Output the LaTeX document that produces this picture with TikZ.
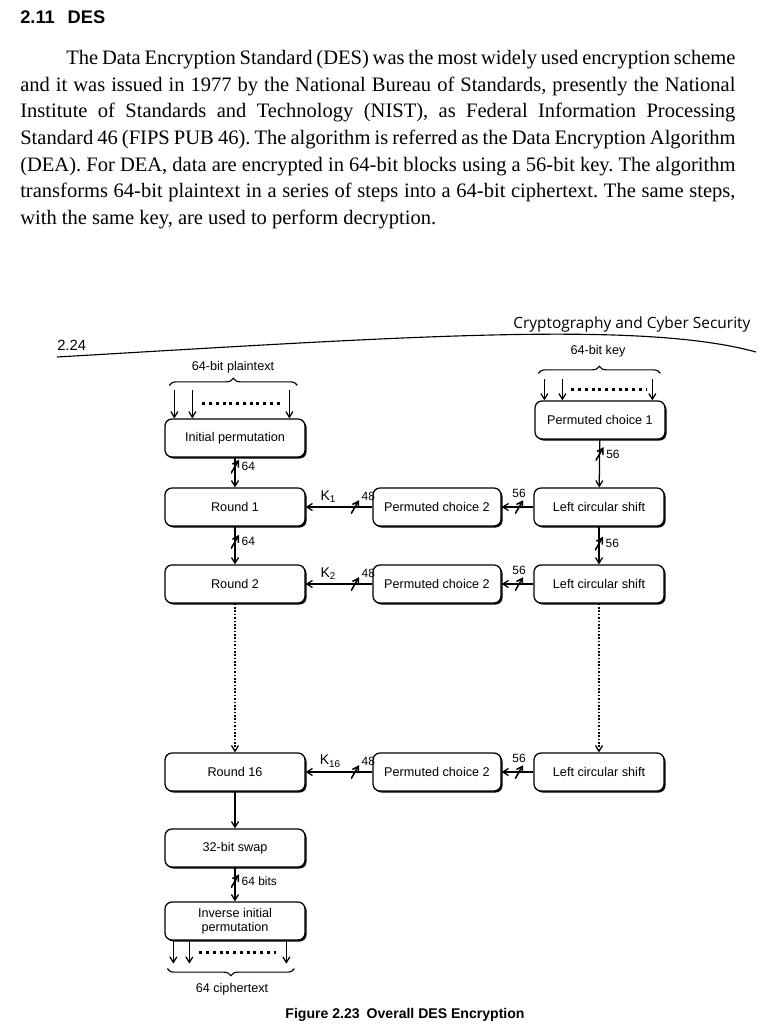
\documentclass[tikz,border=0pt]{standalone}
\usepackage{fontspec}
\setmainfont{Liberation Serif}
\setsansfont{Liberation Sans}
\newfontfamily\runfont{Open Sans}
\usetikzlibrary{arrows.meta,calc,shadows,decorations.pathreplacing}
\begin{document}
\frenchspacing
\begin{tikzpicture}[x=0.025cm, y=-0.025cm,
    every node/.style={font=\sffamily\fontsize{9}{10}\selectfont},
    stage/.style={draw, line width=0.9pt, rounded corners=5pt, fill=white, minimum height=0.95cm,
      align=center, inner sep=2pt,
      drop shadow={shadow xshift=1.1pt, shadow yshift=-1.1pt, fill=black, opacity=1}},
    leftbox/.style={stage, minimum width=3.5cm},
    midbox/.style={stage, minimum width=3.2cm},
    rightbox/.style={stage, minimum width=3.25cm},
    arr/.style={-{Straight Barb[length=4pt,width=5pt]}, line width=0.9pt},
    dotarr/.style={arr, dash pattern=on 1.2pt off 1.2pt},
    bus/.style={inner sep=0pt, minimum width=0.2cm, minimum height=0.34cm,
      path picture={\draw[line width=1.1pt] (path picture bounding box.south west) -- (path picture bounding box.north east);}},
    num/.style={font=\sffamily\fontsize{8.5}{9}\selectfont, inner sep=1pt},
    inbits/.style={line width=2pt, dash pattern=on 2.2pt off 2.6pt},
    brc/.style={decorate, decoration={brace, amplitude=5pt}, line width=0.8pt},
    body/.style={anchor=base west, inner sep=0pt, font=\rmfamily\fontsize{14.6}{18}\selectfont}]
    \useasboundingbox (0,0) rectangle (768,1024);
    \node[anchor=base west, inner sep=0pt, font=\sffamily\bfseries\fontsize{13}{15}\selectfont] (sec) at (20,24) {2.11\hspace{0.7em}DES};
    \node[body] (t1) at (66,65) {\makebox[16.725cm][s]{The Data Encryption Standard (DES) was the most widely used encryption scheme}};
    \node[body] (t2) at (20,92) {\makebox[17.875cm][s]{and it was issued in 1977 by the National Bureau of Standards, presently the National}};
    \node[body] (t3) at (20,118) {\makebox[17.875cm][s]{Institute of Standards and Technology (NIST), as Federal Information Processing}};
    \node[body] (t4) at (20,145) {\makebox[17.875cm][s]{Standard 46 (FIPS PUB 46). The algorithm is referred as the Data Encryption Algorithm}};
    \node[body] (t5) at (20,172) {\makebox[17.875cm][s]{(DEA). For DEA, data are encrypted in 64-bit blocks using a 56-bit key. The algorithm}};
    \node[body] (t6) at (20,198) {\makebox[17.875cm][s]{transforms 64-bit plaintext in a series of steps into a 64-bit ciphertext. The same steps,}};
    \node[body] (t7) at (20,225) {with the same key, are used to perform decryption.};
    \node[anchor=base west, inner sep=0pt, font=\runfont\fontsize{11}{13}\selectfont] (runhead) at (513,328) {Cryptography and Cyber Security};
    \node[anchor=base west, inner sep=0pt, font=\sffamily\fontsize{10.5}{12}\selectfont] (pageno) at (57,350) {2.24};
    \draw[line width=0.8pt] (57,357) .. controls (400,337) and (640,320) .. (756,352);

    \node[leftbox] (ip) at (235,438) {Initial permutation};
    \node[leftbox] (r1) at (235,507) {Round 1};
    \node[leftbox] (r2) at (235,584) {Round 2};
    \node[leftbox] (r16) at (235,772) {Round 16};
    \node[leftbox] (swap) at (235,848) {32-bit swap};
    \node[leftbox] (iip) at (235,921) {Inverse initial\\permutation};
    \node[midbox] (pc2a) at (437,507) {Permuted choice 2};
    \node[midbox] (pc2b) at (437,584) {Permuted choice 2};
    \node[midbox] (pc2p) at (437,772) {Permuted choice 2};
    \node[rightbox] (pc1) at (600,420) {Permuted choice 1};
    \node[rightbox] (ls1) at (599,507) {Left circular shift};
    \node[rightbox] (ls2) at (599,584) {Left circular shift};
    \node[rightbox] (ls16) at (599,772) {Left circular shift};

    \node (ptxt) at (233,367) {64-bit plaintext};
    \foreach \k/\dx in {a/10,b/28,c/125}{
      \coordinate (ptin\k) at ($(ip.north west)+(\dx,-28)$);
      \draw[arr] (ptin\k) -- (ptin\k |- ip.north);
    }
    \draw[inbits] ($(ptinb)+(10,13)$) -- ($(ptinc)+(-8,13)$);
    \draw[brc] ($(ptina)+(-5,-5)$) -- ($(ptinc)+(8,-5)$);

    \node (ktxt) at (598,351) {64-bit key};
    \foreach \k/\dx in {a/10,b/28,c/118}{
      \coordinate (kin\k) at ($(pc1.north west)+(\dx,-21)$);
      \draw[arr] (kin\k) -- (kin\k |- pc1.north);
    }
    \draw[inbits] ($(kinb)+(9,10)$) -- ($(kinc)+(-6,10)$);
    \draw[brc] ($(kina)+(-6,-6)$) -- ($(kinc)+(8,-6)$);

    \foreach \k/\dx in {a/9,b/25,c/122}{
      \coordinate (ctout\k) at ($(iip.south west)+(\dx,23)$);
      \draw[arr] (ctout\k |- iip.south) -- (ctout\k);
    }
    \draw[inbits] ($(ctoutb)+(10,-11)$) -- ($(ctoutc)+(-10,-11)$);
    \draw[brc] ($(ctoutc)+(8,5)$) -- ($(ctouta)+(-6,5)$);
    \node (ctxt) at (232,989) {64 ciphertext};

    \draw[arr] (ip) -- node[bus, pos=.3, label={[num]right:64}] (s1) {} (r1);
    \draw[arr] (r1) -- node[bus, pos=.4, label={[num]right:64}] (s2) {} (r2);
    \draw[dotarr] (r2) -- (r16);
    \draw[arr] (r16) -- (swap);
    \draw[arr] (swap) -- node[bus, pos=.4, label={[num]right:64 bits}] (s3) {} (iip);

    \draw[arr] (pc1) -- node[bus, pos=.3, label={[num]right:56}] (s4) {} (ls1);
    \draw[arr] (ls1) -- node[bus, pos=.45, label={[num]right:56}] (s5) {} (ls2);
    \draw[dotarr] (ls2) -- (ls16);

    \draw[arr] (ls1) -- node[bus, pos=.45, label={[num]above:56}] (s6) {} (pc2a);
    \draw[arr] (ls2) -- node[bus, pos=.45, label={[num]above:56}] (s7) {} (pc2b);
    \draw[arr] (ls16) -- node[bus, pos=.45, label={[num]above:56}] (s8) {} (pc2p);

    \draw[arr] (pc2a) -- node[bus, pos=.26, label={[num]above right:48}] (s9) {}
      node[num, pos=.66, above=2pt, font=\sffamily\fontsize{10}{11}\selectfont] (k1) {K\textsubscript{1}} (r1);
    \draw[arr] (pc2b) -- node[bus, pos=.26, label={[num]above right:48}] (s10) {}
      node[num, pos=.66, above=2pt, font=\sffamily\fontsize{10}{11}\selectfont] (k2) {K\textsubscript{2}} (r2);
    \draw[arr] (pc2p) -- node[bus, pos=.26, label={[num]above right:48}] (s11) {}
      node[num, pos=.63, above=2pt, font=\sffamily\fontsize{10}{11}\selectfont] (k16) {K\textsubscript{16}} (r16);

    \node[font=\sffamily\bfseries\fontsize{10}{12}\selectfont] (cap) at (405,1015) {Figure 2.23\hspace{0.5em}Overall DES Encryption};
\end{tikzpicture}
\end{document}
